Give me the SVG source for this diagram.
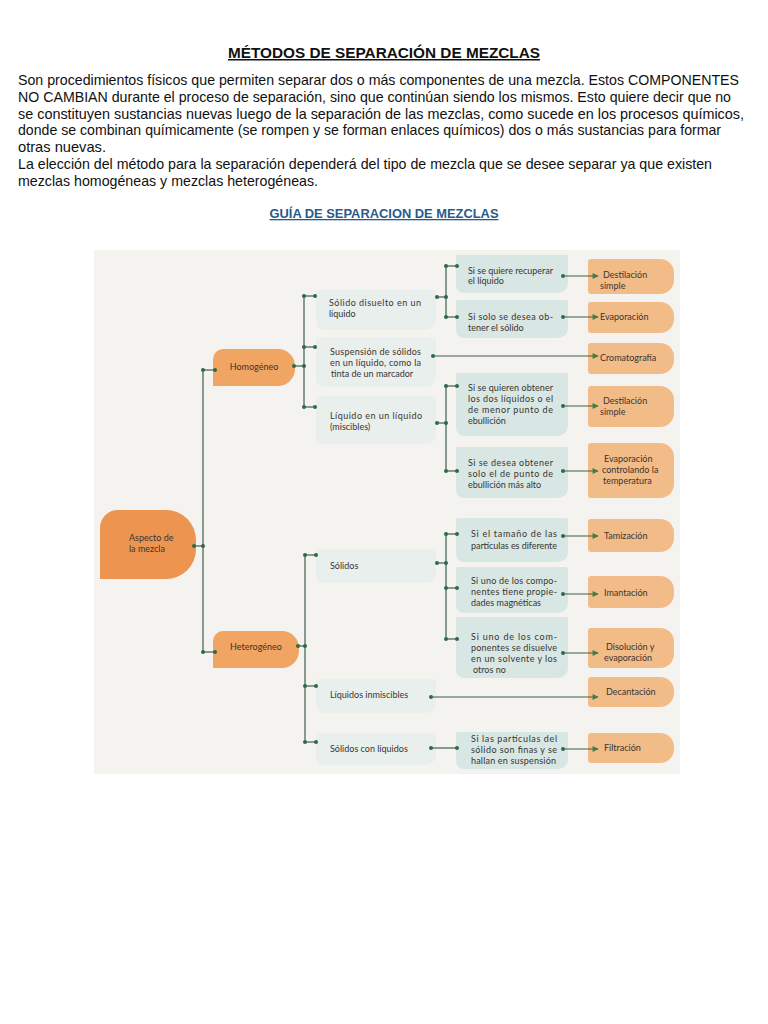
<svg xmlns="http://www.w3.org/2000/svg" width="768" height="1024" viewBox="0 0 768 1024">
<style>
.h{font-family:"Liberation Sans",Arial,sans-serif;fill:#111}
.p{font-size:14.5px}
.t{font-family:Lato,"Open Sans",sans-serif;font-size:9px;fill:#3a3431}
.main{fill:#ec9450}
.mid{fill:#f0a563}
.fin{fill:#f2bc88}
.l3{fill:#d8e7e3}
.l2{fill:#e9efed}
.c{stroke:#3d5f4e;stroke-width:1.2;fill:none}
.d{marker-start:url(#dot);marker-end:url(#dot)}
.a{stroke:#3d5f4e;stroke-width:1.2;fill:none;marker-start:url(#dot);marker-end:url(#ah)}
</style>
<defs>
<marker id="ah" viewBox="0 0 10 10" refX="9" refY="5" markerWidth="8" markerHeight="6" orient="auto" markerUnits="userSpaceOnUse"><path d="M0,0 L10,5 L0,10 Z" fill="#3f7d4a"/></marker>
<marker id="dot" viewBox="0 0 4 4" refX="2" refY="2" markerWidth="4" markerHeight="4" markerUnits="userSpaceOnUse"><circle cx="2" cy="2" r="2" fill="#2d6b47"/></marker>
</defs>
<rect width="768" height="1024" fill="#fff"/>
<g id="header">
<text class="h" x="384" y="58" text-anchor="middle" font-size="15" font-weight="bold" text-decoration="underline" textLength="312" lengthAdjust="spacingAndGlyphs">MÉTODOS DE SEPARACIÓN DE MEZCLAS</text>
<text class="h p" x="18" y="85" textLength="721" lengthAdjust="spacingAndGlyphs">Son procedimientos físicos que permiten separar dos o más componentes de una mezcla. Estos COMPONENTES</text>
<text class="h p" x="18" y="102" textLength="713" lengthAdjust="spacingAndGlyphs">NO CAMBIAN durante el proceso de separación, sino que continúan siendo los mismos. Esto quiere decir que no</text>
<text class="h p" x="18" y="118.5" textLength="726" lengthAdjust="spacingAndGlyphs">se constituyen sustancias nuevas luego de la separación de las mezclas, como sucede en los procesos químicos,</text>
<text class="h p" x="18" y="135" textLength="703" lengthAdjust="spacingAndGlyphs">donde se combinan químicamente (se rompen y se forman enlaces químicos) dos o más sustancias para formar</text>
<text class="h p" x="18" y="152" textLength="88" lengthAdjust="spacingAndGlyphs">otras nuevas.</text>
<text class="h p" x="18" y="169" textLength="694" lengthAdjust="spacingAndGlyphs">La elección del método para la separación dependerá del tipo de mezcla que se desee separar ya que existen</text>
<text class="h p" x="18" y="186" textLength="300" lengthAdjust="spacingAndGlyphs">mezclas homogéneas y mezclas heterogéneas.</text>
<text class="h" x="384" y="218" text-anchor="middle" font-size="13" font-weight="bold" style="fill:#2a5a8c" text-decoration="underline" textLength="229" lengthAdjust="spacingAndGlyphs">GUÍA DE SEPARACION DE MEZCLAS</text>
</g>
<rect x="94" y="250" width="586" height="524" fill="#f4f3f0"/>
<g id="aspecto"><path class="main" d="M118,510 H166 A30,30 0 0 1 196,540 V549 A30,30 0 0 1 166,579 H100 V528 A18,18 0 0 1 118,510 Z"/><text class="t" x="129" y="541">Aspecto de</text><text class="t" x="129" y="552">la mezcla</text></g>
<g id="homogeneo"><path class="mid" d="M223,349 H278 A17,17 0 0 1 295,366 V369 A17,17 0 0 1 278,386 H213 V359 A10,10 0 0 1 223,349 Z"/><text class="t" x="254" y="370" text-anchor="middle">Homogéneo</text></g>
<g id="heterogeneo"><path class="mid" d="M223,631 H282 A17,17 0 0 1 299,648 V651 A17,17 0 0 1 282,668 H213 V641 A10,10 0 0 1 223,631 Z"/><text class="t" x="256" y="650" text-anchor="middle">Heterogéneo</text></g>
<g id="solido-disuelto"><path class="l2" d="M318,290 H434 A2,2 0 0 1 436,292 V320 A10,10 0 0 1 426,330 H324 A8,8 0 0 1 316,322 V292 A2,2 0 0 1 318,290 Z"/><text class="t" x="329" y="306" textLength="92" lengthAdjust="spacing">Sólido disuelto en un</text><text class="t" x="329" y="317">líquido</text></g>
<g id="suspension"><path class="l2" d="M318,337 H434 A2,2 0 0 1 436,339 V377 A10,10 0 0 1 426,387 H324 A8,8 0 0 1 316,379 V339 A2,2 0 0 1 318,337 Z"/><text class="t" x="330" y="355" textLength="91" lengthAdjust="spacing">Suspensión de sólidos</text><text class="t" x="330" y="366" textLength="91" lengthAdjust="spacing">en un líquido, como la</text><text class="t" x="331" y="377">tinta de un marcador</text></g>
<g id="liquido-liquido"><path class="l2" d="M318,396 H434 A2,2 0 0 1 436,398 V434 A10,10 0 0 1 426,444 H324 A8,8 0 0 1 316,436 V398 A2,2 0 0 1 318,396 Z"/><text class="t" x="330" y="419" textLength="92" lengthAdjust="spacing">Líquido en un líquido</text><text class="t" x="330" y="430">(miscibles)</text></g>
<g id="solidos"><path class="l2" d="M318,549 H434 A2,2 0 0 1 436,551 V573 A10,10 0 0 1 426,583 H324 A8,8 0 0 1 316,575 V551 A2,2 0 0 1 318,549 Z"/><text class="t" x="330" y="569">Sólidos</text></g>
<g id="liquidos-inmiscibles"><path class="l2" d="M318,679 H434 A2,2 0 0 1 436,681 V703 A10,10 0 0 1 426,713 H324 A8,8 0 0 1 316,705 V681 A2,2 0 0 1 318,679 Z"/><text class="t" x="330" y="698">Líquidos inmiscibles</text></g>
<g id="solidos-liquidos"><path class="l2" d="M318,733 H434 A2,2 0 0 1 436,735 V755 A10,10 0 0 1 426,765 H324 A8,8 0 0 1 316,757 V735 A2,2 0 0 1 318,733 Z"/><text class="t" x="330" y="752">Sólidos con líquidos</text></g>
<g id="recuperar"><path class="l3" d="M458,255 H566 A2,2 0 0 1 568,257 V283 A10,10 0 0 1 558,293 H464 A8,8 0 0 1 456,285 V257 A2,2 0 0 1 458,255 Z"/><text class="t" x="468" y="274" textLength="85" lengthAdjust="spacing">Si se quiere recuperar</text><text class="t" x="468" y="284">el líquido</text></g>
<g id="solo-solido"><path class="l3" d="M458,300 H566 A2,2 0 0 1 568,302 V328 A10,10 0 0 1 558,338 H464 A8,8 0 0 1 456,330 V302 A2,2 0 0 1 458,300 Z"/><text class="t" x="468" y="320" textLength="85" lengthAdjust="spacing">Si solo se desea ob-</text><text class="t" x="468" y="331">tener el sólido</text></g>
<g id="dos-liquidos"><path class="l3" d="M458,373 H566 A2,2 0 0 1 568,375 V426 A10,10 0 0 1 558,436 H464 A8,8 0 0 1 456,428 V375 A2,2 0 0 1 458,373 Z"/><text class="t" x="468" y="391" textLength="85" lengthAdjust="spacing">Si se quieren obtener</text><text class="t" x="468" y="402" textLength="85" lengthAdjust="spacing">los dos líquidos o el</text><text class="t" x="468" y="413" textLength="85" lengthAdjust="spacing">de menor punto de</text><text class="t" x="468" y="424">ebullición</text></g>
<g id="punto-alto"><path class="l3" d="M458,447 H566 A2,2 0 0 1 568,449 V488 A10,10 0 0 1 558,498 H464 A8,8 0 0 1 456,490 V449 A2,2 0 0 1 458,447 Z"/><text class="t" x="468" y="466" textLength="85" lengthAdjust="spacing">Si se desea obtener</text><text class="t" x="468" y="477" textLength="85" lengthAdjust="spacing">solo el de punto de</text><text class="t" x="468" y="488">ebullición más alto</text></g>
<g id="tamano"><path class="l3" d="M458,518 H566 A2,2 0 0 1 568,520 V552 A10,10 0 0 1 558,562 H464 A8,8 0 0 1 456,554 V520 A2,2 0 0 1 458,518 Z"/><text class="t" x="471" y="537" textLength="86" lengthAdjust="spacing">Si el tamaño de las</text><text class="t" x="471" y="549" textLength="86" lengthAdjust="spacing">partículas es diferente</text></g>
<g id="magneticas"><path class="l3" d="M458,567 H566 A2,2 0 0 1 568,569 V603 A10,10 0 0 1 558,613 H464 A8,8 0 0 1 456,605 V569 A2,2 0 0 1 458,567 Z"/><text class="t" x="471" y="584" textLength="86" lengthAdjust="spacing">Si uno de los compo-</text><text class="t" x="471" y="595" textLength="86" lengthAdjust="spacing">nentes tiene propie-</text><text class="t" x="471" y="606">dades magnéticas</text></g>
<g id="disuelve"><path class="l3" d="M458,617 H566 A2,2 0 0 1 568,619 V668 A10,10 0 0 1 558,678 H464 A8,8 0 0 1 456,670 V619 A2,2 0 0 1 458,617 Z"/><text class="t" x="471" y="640" textLength="86" lengthAdjust="spacing">Si uno de los com-</text><text class="t" x="471" y="651" textLength="86" lengthAdjust="spacing">ponentes se disuelve</text><text class="t" x="471" y="662" textLength="86" lengthAdjust="spacing">en un solvente y los</text><text class="t" x="473" y="673">otros no</text></g>
<g id="finas"><path class="l3" d="M458,732 H566 A2,2 0 0 1 568,734 V759 A10,10 0 0 1 558,769 H464 A8,8 0 0 1 456,761 V734 A2,2 0 0 1 458,732 Z"/><text class="t" x="471" y="742" textLength="86" lengthAdjust="spacing">Si las partículas del</text><text class="t" x="471" y="753" textLength="86" lengthAdjust="spacing">sólido son finas y se</text><text class="t" x="471" y="764" textLength="85" lengthAdjust="spacing">hallan en suspensión</text></g>
<g id="destilacion1"><path class="fin" d="M591,259 H660 A14,14 0 0 1 674,273 V280 A14,14 0 0 1 660,294 H591 A3,3 0 0 1 588,291 V262 A3,3 0 0 1 591,259 Z"/><text class="t" x="603" y="278">Destilación</text><text class="t" x="600" y="289">simple</text></g>
<g id="evaporacion"><path class="fin" d="M591,302 H660 A14,14 0 0 1 674,316 V319 A14,14 0 0 1 660,333 H591 A3,3 0 0 1 588,330 V305 A3,3 0 0 1 591,302 Z"/><text class="t" x="600" y="320">Evaporación</text></g>
<g id="cromatografia"><path class="fin" d="M591,343 H660 A14,14 0 0 1 674,357 V360 A14,14 0 0 1 660,374 H591 A3,3 0 0 1 588,371 V346 A3,3 0 0 1 591,343 Z"/><text class="t" x="600" y="361">Cromatografía</text></g>
<g id="destilacion2"><path class="fin" d="M591,386 H660 A14,14 0 0 1 674,400 V413 A14,14 0 0 1 660,427 H591 A3,3 0 0 1 588,424 V389 A3,3 0 0 1 591,386 Z"/><text class="t" x="603" y="404">Destilación</text><text class="t" x="600" y="415">simple</text></g>
<g id="evaporacion-temp"><path class="fin" d="M591,443 H660 A14,14 0 0 1 674,457 V484 A14,14 0 0 1 660,498 H591 A3,3 0 0 1 588,495 V446 A3,3 0 0 1 591,443 Z"/><text class="t" x="604" y="462">Evaporación</text><text class="t" x="602" y="473">controlando la</text><text class="t" x="603" y="484">temperatura</text></g>
<g id="tamizacion"><path class="fin" d="M591,519 H660 A14,14 0 0 1 674,533 V538 A14,14 0 0 1 660,552 H591 A3,3 0 0 1 588,549 V522 A3,3 0 0 1 591,519 Z"/><text class="t" x="604" y="539">Tamización</text></g>
<g id="imantacion"><path class="fin" d="M591,576 H660 A14,14 0 0 1 674,590 V594 A14,14 0 0 1 660,608 H591 A3,3 0 0 1 588,605 V579 A3,3 0 0 1 591,576 Z"/><text class="t" x="604" y="596">Imantación</text></g>
<g id="disolucion"><path class="fin" d="M591,628 H660 A14,14 0 0 1 674,642 V654 A14,14 0 0 1 660,668 H591 A3,3 0 0 1 588,665 V631 A3,3 0 0 1 591,628 Z"/><text class="t" x="606" y="650">Disolución y</text><text class="t" x="604" y="661">evaporación</text></g>
<g id="decantacion"><path class="fin" d="M591,677 H660 A14,14 0 0 1 674,691 V693 A14,14 0 0 1 660,707 H591 A3,3 0 0 1 588,704 V680 A3,3 0 0 1 591,677 Z"/><text class="t" x="606" y="695">Decantación</text></g>
<g id="filtracion"><path class="fin" d="M591,733 H660 A14,14 0 0 1 674,747 V749 A14,14 0 0 1 660,763 H591 A3,3 0 0 1 588,760 V736 A3,3 0 0 1 591,733 Z"/><text class="t" x="604" y="751">Filtración</text></g>
<g id="connectors">
<line class="c d" x1="194" y1="546" x2="203" y2="546"/>
<line class="c" x1="203" y1="370" x2="203" y2="652"/>
<line class="c d" x1="203" y1="370" x2="215" y2="370"/>
<line class="c d" x1="203" y1="652" x2="215" y2="652"/>
<line class="c d" x1="294" y1="366" x2="304" y2="366"/>
<line class="c" x1="304" y1="296" x2="304" y2="407"/>
<line class="c d" x1="304" y1="296" x2="315" y2="296"/>
<line class="c d" x1="304" y1="347" x2="315" y2="347"/>
<line class="c d" x1="304" y1="407" x2="315" y2="407"/>
<line class="c d" x1="437" y1="297" x2="446" y2="297"/>
<line class="c" x1="446" y1="266" x2="446" y2="317"/>
<line class="c d" x1="446" y1="266" x2="457" y2="266"/>
<line class="c d" x1="446" y1="317" x2="457" y2="317"/>
<line class="c d" x1="437" y1="423" x2="446" y2="423"/>
<line class="c" x1="446" y1="386" x2="446" y2="471"/>
<line class="c d" x1="446" y1="386" x2="457" y2="386"/>
<line class="c d" x1="446" y1="471" x2="457" y2="471"/>
<line class="c d" x1="298" y1="646" x2="305" y2="646"/>
<line class="c" x1="305" y1="555" x2="305" y2="742"/>
<line class="c d" x1="305" y1="555" x2="316" y2="555"/>
<line class="c d" x1="305" y1="686" x2="316" y2="686"/>
<line class="c d" x1="305" y1="742" x2="316" y2="742"/>
<line class="c d" x1="437" y1="563" x2="446" y2="563"/>
<line class="c" x1="446" y1="534" x2="446" y2="639"/>
<line class="c d" x1="446" y1="534" x2="457" y2="534"/>
<line class="c d" x1="446" y1="588" x2="457" y2="588"/>
<line class="c d" x1="446" y1="639" x2="457" y2="639"/>
<line class="c d" x1="431" y1="748" x2="457" y2="748"/>
<line class="a" x1="563" y1="276" x2="598" y2="276"/>
<line class="a" x1="563" y1="317" x2="598" y2="317"/>
<line class="a" x1="433" y1="356" x2="598" y2="356"/>
<line class="a" x1="563" y1="406" x2="598" y2="406"/>
<line class="a" x1="563" y1="471" x2="598" y2="471"/>
<line class="a" x1="563" y1="536" x2="598" y2="536"/>
<line class="a" x1="563" y1="594" x2="598" y2="594"/>
<line class="a" x1="563" y1="653" x2="598" y2="653"/>
<line class="a" x1="431" y1="697" x2="598" y2="697"/>
<line class="a" x1="563" y1="749" x2="598" y2="749"/>
</g>
</svg>
